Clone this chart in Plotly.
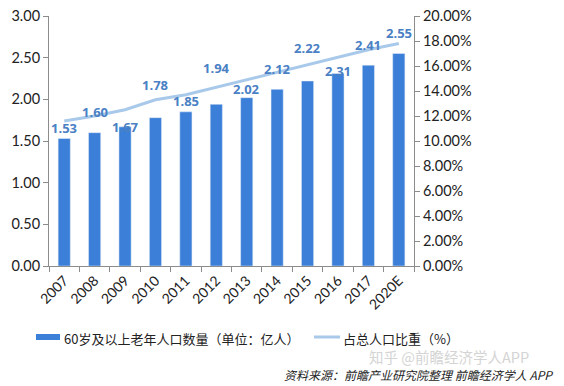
import plotly.graph_objects as go

years = ["2007", "2008", "2009", "2010", "2011", "2012", "2013", "2014", "2015", "2016", "2017", "2020E"]
elderly = [1.53, 1.60, 1.67, 1.78, 1.85, 1.94, 2.02, 2.12, 2.22, 2.31, 2.41, 2.55]
ratio_pct = [11.6, 12.0, 12.5, 13.3, 13.7, 14.3, 14.9, 15.5, 16.1, 16.7, 17.3, 17.8]
left_ticks = [0, 0.5, 1.0, 1.5, 2.0, 2.5, 3.0]
right_ticks = [0, 2, 4, 6, 8, 10, 12, 14, 16, 18, 20]
bar_name = "60岁及以上老年人口数量（单位：亿人）"
line_name = "占总人口比重（%）"
source_text = "资料来源：前瞻产业研究院整理 前瞻经济学人 APP"
watermark = "知乎 @前瞻经济学人APP"
label_shift = [6.5, 17, -4, 29, 7, 32, 5, 16, 29, -1.5, 16, 16.5]

BAR = "#3b7fd9"
LINE = "#a9c9ea"
LBL = "#4a80c4"
AX = "#8c8c8c"
FONT = "Lato, 'Noto Sans CJK SC', sans-serif"
CJK = "'Noto Sans CJK SC', sans-serif"

idx = list(range(len(years)))
bounds = [i - 0.5 for i in range(len(years) + 1)]

# page body has an 8px margin; work in reference pixel coords and compensate
OFF = 8
W, H = 564 - OFF, 386 - OFF
L, R, T, B = 49, 414, 16, 266  # plot area in reference pixels


def px(x):
    return (x - L) / (R - L)


def py(y):
    return (B - y) / (B - T)


fig = go.Figure()
fig.add_trace(go.Bar(x=idx, y=elderly, name=bar_name, marker_color=BAR,
                     width=0.4, showlegend=False))
fig.add_trace(go.Scatter(x=idx, y=ratio_pct, name=line_name, mode="lines",
                         line=dict(color=LINE, width=3), yaxis="y2", showlegend=False))
fig.add_trace(go.Scatter(x=[0], y=[0], xaxis="x2", mode="markers", marker=dict(opacity=0),
                         showlegend=False, hoverinfo="skip"))

for i, v, s in zip(idx, elderly, label_shift):
    fig.add_annotation(x=i, y=v, xref="x", yref="y", text=f"<b>{v:.2f}</b>", showarrow=False,
                       yanchor="bottom", yshift=s - 7,
                       font=dict(family="'Open Sans', sans-serif", size=13, color=LBL))

# legend (manual)
fig.add_shape(type="rect", xref="paper", yref="paper", x0=px(36), x1=px(60), y0=py(340), y1=py(334),
              fillcolor=BAR, line=dict(width=0))
fig.add_annotation(xref="paper", yref="paper", x=px(62), y=py(338), xanchor="left", yanchor="middle",
                   text=bar_name, showarrow=False, font=dict(family=CJK, size=13, color="#222"))
fig.add_shape(type="line", xref="paper", yref="paper", x0=px(314), x1=px(340), y0=py(337), y1=py(337),
              line=dict(color=LINE, width=3))
fig.add_annotation(xref="paper", yref="paper", x=px(341), y=py(338), xanchor="left", yanchor="middle",
                   text=line_name, showarrow=False, font=dict(family=CJK, size=13, color="#222"))
fig.add_annotation(xref="paper", yref="paper", x=px(367), y=py(357), xanchor="left", yanchor="middle",
                   text=watermark, showarrow=False, font=dict(family=CJK, size=14.5, color="#d4d4d4"))
fig.add_annotation(xref="paper", yref="paper", x=px(556), y=py(374), xanchor="right", yanchor="middle",
                   text=f"<i>{source_text}</i>", showarrow=False,
                   font=dict(family=CJK, size=12, color="#222"))

fig.update_layout(
    width=W, height=H,
    margin=dict(l=L - OFF, r=564 - R, t=T - OFF, b=386 - B, autoexpand=False),
    paper_bgcolor="white", plot_bgcolor="white",
    font=dict(family=FONT, size=14, color="#222"),
    xaxis=dict(range=[-0.5, len(years) - 0.5], tickvals=idx, ticktext=years, tickangle=-45,
               showline=True, linecolor=AX, linewidth=1, ticks="", automargin=False,
               ticklabeloverflow="allow",
               tickfont=dict(family=FONT, size=14), showgrid=False, zeroline=False),
    xaxis2=dict(range=[-0.5, len(years) - 0.5], overlaying="x", side="bottom", anchor="y",
                tickvals=bounds, showticklabels=False, ticks="outside", ticklen=5, tickcolor=AX,
                showgrid=False, zeroline=False, showline=False, automargin=False),
    yaxis=dict(range=[0, 3], tickvals=left_ticks, ticktext=[f"{v:.2f}" for v in left_ticks],
               showline=True, linecolor=AX, automargin=False, ticklabeloverflow="allow",
               ticks="outside", ticklen=5, tickcolor=AX, showgrid=False, zeroline=False,
               tickfont=dict(family=FONT, size=14.5)),
    yaxis2=dict(range=[0, 20], tickvals=right_ticks, ticktext=[f"{v:.2f}%" for v in right_ticks],
                overlaying="y", side="right", showline=True, linecolor=AX, ticks="outside",
                ticklen=5, tickcolor=AX, showgrid=False, zeroline=False, automargin=False,
                ticklabeloverflow="allow", tickfont=dict(family=FONT, size=14.5)),
)

fig.write_html("out.html")
